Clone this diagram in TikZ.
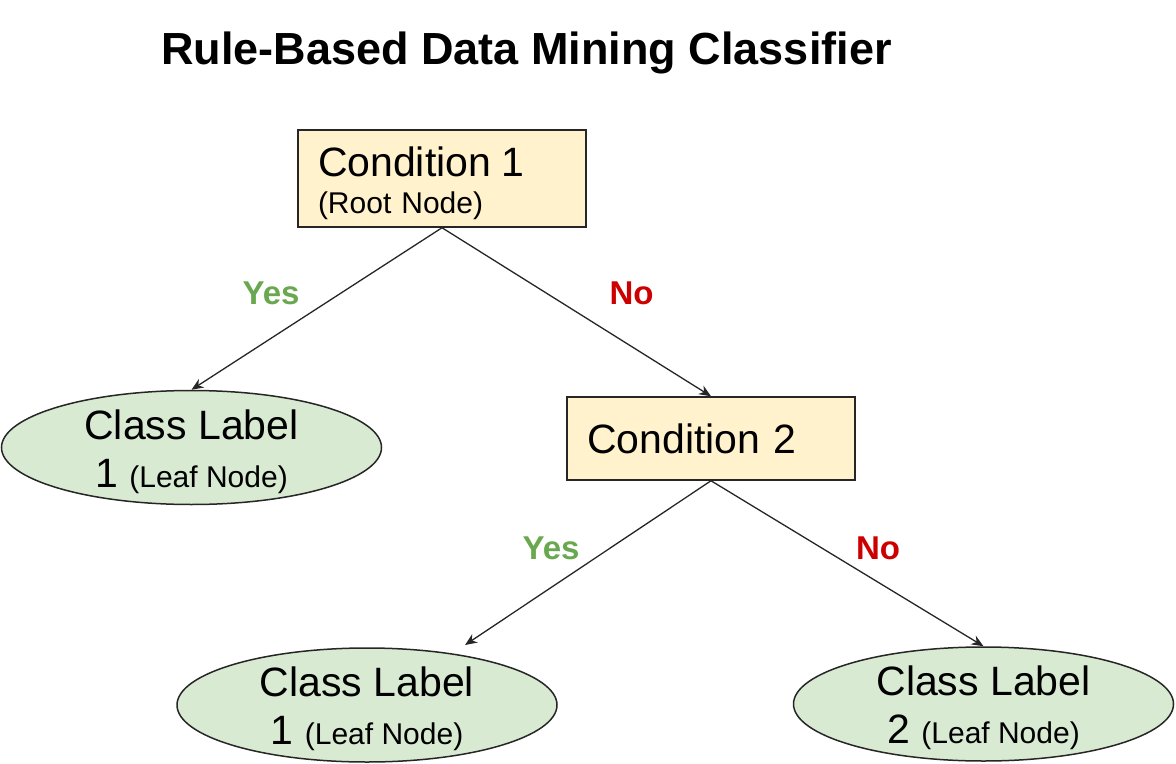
\documentclass[tikz,border=0pt]{standalone}
\usepackage{fontspec}
\setmainfont{Liberation Sans}
\usetikzlibrary{arrows.meta,shapes.geometric}

\definecolor{condfill}{HTML}{FFF2CC}
\definecolor{leaffill}{HTML}{D9EAD3}
\definecolor{yesgreen}{HTML}{6AA84F}
\definecolor{nored}{HTML}{CC0000}
\definecolor{edgegray}{HTML}{262626}

\newcommand{\bigfont}{\fontsize{20.5}{24}\selectfont}
\newcommand{\smallfont}{\fontsize{15}{17.5}\selectfont}

\tikzset{
  condbox/.style={draw=edgegray,line width=0.75pt,fill=condfill,
    minimum width=144pt,text width=124pt,inner xsep=10pt,align=left,
    font=\smallfont},
  leafnode/.style={ellipse,draw=edgegray,line width=0.75pt,fill=leaffill,
    minimum width=190pt,minimum height=57pt,inner sep=0pt,inner ysep=-3pt,
    align=center,font=\bigfont},
  arr/.style={-{Stealth[length=6pt,width=5pt]},line width=0.65pt,draw=edgegray},
  yeslabel/.style={font=\fontsize{16.5}{18}\selectfont\bfseries,text=yesgreen},
  nolabel/.style={font=\fontsize{16.5}{18}\selectfont\bfseries,text=nored},
}

\begin{document}
\begin{tikzpicture}[x=0.5pt,y=-0.5pt]
  \useasboundingbox (0,0) rectangle (1176,764);
  % title
  \node[anchor=base,font=\fontsize{22.5}{26}\selectfont\bfseries] (title) at (526.5,65)
    {Rule-Based Data Mining Classifier};
  % conditions
  \node[condbox,minimum height=48.5pt] (cond1) at (442,178.5)
    {{\bigfont\rule{0pt}{20pt}Condition 1}\\[1pt](Root Node)};
  \node[condbox,minimum height=41.5pt,font=\bigfont] (cond2) at (711,438.5)
    {Condition 2};
  % leaves
  \node[leafnode] (leafA) at (191.5,447.5)
    {\rule{0pt}{19pt}Class Label\\1 {\smallfont (Leaf Node)}};
  \node[leafnode] (leafB) at (367,705)
    {\rule{0pt}{19pt}Class Label\\1 {\smallfont (Leaf Node)}};
  \node[leafnode] (leafC) at (983.5,704)
    {\rule{0pt}{19pt}Class Label\\2 {\smallfont (Leaf Node)}};
  \coordinate (tipB) at (465,645);
  % edges
  \draw[arr] (cond1.south) -- (leafA.north);
  \draw[arr] (cond1.south) -- (cond2.north);
  \draw[arr] (cond2.south) -- (tipB);
  \draw[arr] (cond2.south) -- (leafC.north);
  % edge labels
  \node[yeslabel] (yesA) at (271,293) {Yes};
  \node[nolabel] (noA) at (631.5,293) {No};
  \node[yeslabel] (yesB) at (551,548) {Yes};
  \node[nolabel] (noB) at (878,548) {No};
\end{tikzpicture}
\end{document}
